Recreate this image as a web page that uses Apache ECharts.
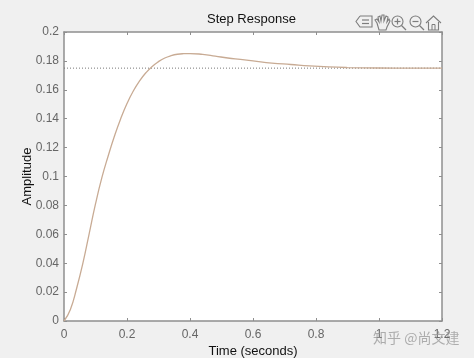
<!DOCTYPE html>
<html><head><meta charset="utf-8">
<style>html,body{margin:0;padding:0;background:#f0f0f0}#c{width:474px;height:358px}</style>
<script src="https://cdn.jsdelivr.net/npm/echarts@6/dist/echarts.min.js"></script>
</head><body><div id="c"></div>
<script>
const titleText = "Step Response";
const xName = "Time (seconds)";
const yName = "Amplitude";
const watermark = "知乎 @尚文建";
const times = [0,0.02,0.04,0.06,0.08,0.10,0.12,0.14,0.16,0.18,0.20,0.22,0.24,0.26,0.28,0.30,0.32,0.34,0.36,0.38,0.40,0.44,0.48,0.52,0.56,0.60,0.66,0.72,0.78,0.84,0.90,1.0,1.1,1.2];
const amps = [0,0.0078,0.0225,0.0400,0.0605,0.0810,0.0990,0.1140,0.1278,0.1400,0.1505,0.1592,0.1662,0.1718,0.1762,0.1795,0.1820,0.1836,0.1846,0.1850,0.1851,0.1845,0.1833,0.1820,0.1810,0.1800,0.1785,0.1775,0.1765,0.1758,0.1754,0.1751,0.1750,0.1750];
const finalValue = [[0,0.175],[1.2,0.175]];
const axisGrey = '#8f8f8f', labelGrey = '#666666';
const line = (shape, extra) => Object.assign({type:'line', shape, style:{stroke:'#7d7d7d', lineWidth:1.2, fill:null}, silent:true}, extra||{});
const tickAxis = {min:0, axisLine:{show:true,onZero:false,lineStyle:{color:axisGrey,width:1.5}}, axisTick:{show:true,inside:true,length:3,lineStyle:{color:axisGrey}}, axisLabel:{show:false}, splitLine:{show:false}};
const chart = echarts.init(document.getElementById('c'), null, {renderer:'canvas'});
chart.setOption({
  animation:false,
  backgroundColor:'#f0f0f0',
  grid:{left:64,right:32,top:32,bottom:37,show:true,backgroundColor:'#ffffff',borderWidth:0,outerBoundsMode:'none',containLabel:false},
  title:{text:titleText,left:202,top:8,textStyle:{fontFamily:'Liberation Sans',fontSize:13,fontWeight:'normal',color:'#111'}},
  xAxis:[
    Object.assign({},tickAxis,{type:'value',max:1.2,interval:0.2,position:'bottom',
      axisLabel:{show:true,color:labelGrey,fontFamily:'Liberation Sans',fontSize:12,margin:8,formatter:v=>String(+v.toFixed(1))},
      name:xName,nameLocation:'middle',nameGap:30,nameMoveOverlap:false,nameTextStyle:{color:'#111',fontFamily:'Liberation Sans',fontSize:13,verticalAlign:'middle'}}),
    Object.assign({},tickAxis,{type:'value',max:1.2,interval:0.2,position:'top'})
  ],
  yAxis:[
    Object.assign({},tickAxis,{type:'value',max:0.2,interval:0.02,position:'left',
      axisLabel:{show:true,color:labelGrey,fontFamily:'Liberation Sans',fontSize:12,margin:5,formatter:v=>String(+v.toFixed(2))},
      name:yName,nameLocation:'middle',nameGap:30,nameMoveOverlap:false,nameTextStyle:{color:'#111',fontFamily:'Liberation Sans',fontSize:13}}),
    Object.assign({},tickAxis,{type:'value',max:0.2,interval:0.02,position:'right'})
  ],
  series:[
    {type:'line',name:'Final value',data:finalValue,showSymbol:false,silent:true,lineStyle:{color:'#777',width:1,type:[1,2]}},
    {type:'line',name:'Step',data:times.map((t,i)=>[t,amps[i]]),showSymbol:false,smooth:0.5,silent:true,lineStyle:{color:'#c8ab94',width:1.3}}
  ],
  graphic:[
    {type:'group',x:356,y:16,silent:true,children:[
      {type:'polyline',shape:{points:[[4,0],[16,0],[16,11],[4,11],[0,5.5],[4,0]]},style:{stroke:'#7d7d7d',fill:null,lineWidth:1.1}},
      line({x1:6,y1:4,x2:13,y2:4}), line({x1:6,y1:7.5,x2:13,y2:7.5})
    ]},
    {type:'group',x:374,y:15,silent:true,children:[
      {type:'polyline',shape:{points:[[3,8],[1,5],[3,4],[5,7],[4,2],[6,1],[7,6],[8,0],[10,0],[10,6],[12,1],[14,2],[13,7],[15,4],[16,6],[13,12],[12,15],[5,15],[3,8]]},style:{stroke:'#7d7d7d',fill:null,lineWidth:1.1}}
    ]},
    {type:'group',x:391,y:15,silent:true,children:[
      {type:'circle',shape:{cx:6.5,cy:6.5,r:5.5},style:{stroke:'#7d7d7d',fill:null,lineWidth:1.1}},
      line({x1:10.5,y1:10.5,x2:15,y2:15}), line({x1:3.5,y1:6.5,x2:9.5,y2:6.5}), line({x1:6.5,y1:3.5,x2:6.5,y2:9.5})
    ]},
    {type:'group',x:409,y:15,silent:true,children:[
      {type:'circle',shape:{cx:6.5,cy:6.5,r:5.5},style:{stroke:'#7d7d7d',fill:null,lineWidth:1.1}},
      line({x1:10.5,y1:10.5,x2:15,y2:15}), line({x1:3.5,y1:6.5,x2:9.5,y2:6.5})
    ]},
    {type:'group',x:426,y:15,silent:true,children:[
      {type:'polyline',shape:{points:[[0,8],[7.5,1],[15,8]]},style:{stroke:'#7d7d7d',fill:null,lineWidth:1.1}},
      {type:'polyline',shape:{points:[[2.5,7],[2.5,15],[12.5,15],[12.5,7]]},style:{stroke:'#7d7d7d',fill:null,lineWidth:1.1}},
      {type:'polyline',shape:{points:[[6,15],[6,9.5],[9,9.5],[9,15]]},style:{stroke:'#7d7d7d',fill:null,lineWidth:1}}
    ]},
    {type:'text',left:373,top:331,silent:true,z:100,style:{text:watermark,fill:'rgba(150,150,150,0.75)',font:'14px "Noto Sans CJK SC"'}}
  ]
});
</script></body></html>
